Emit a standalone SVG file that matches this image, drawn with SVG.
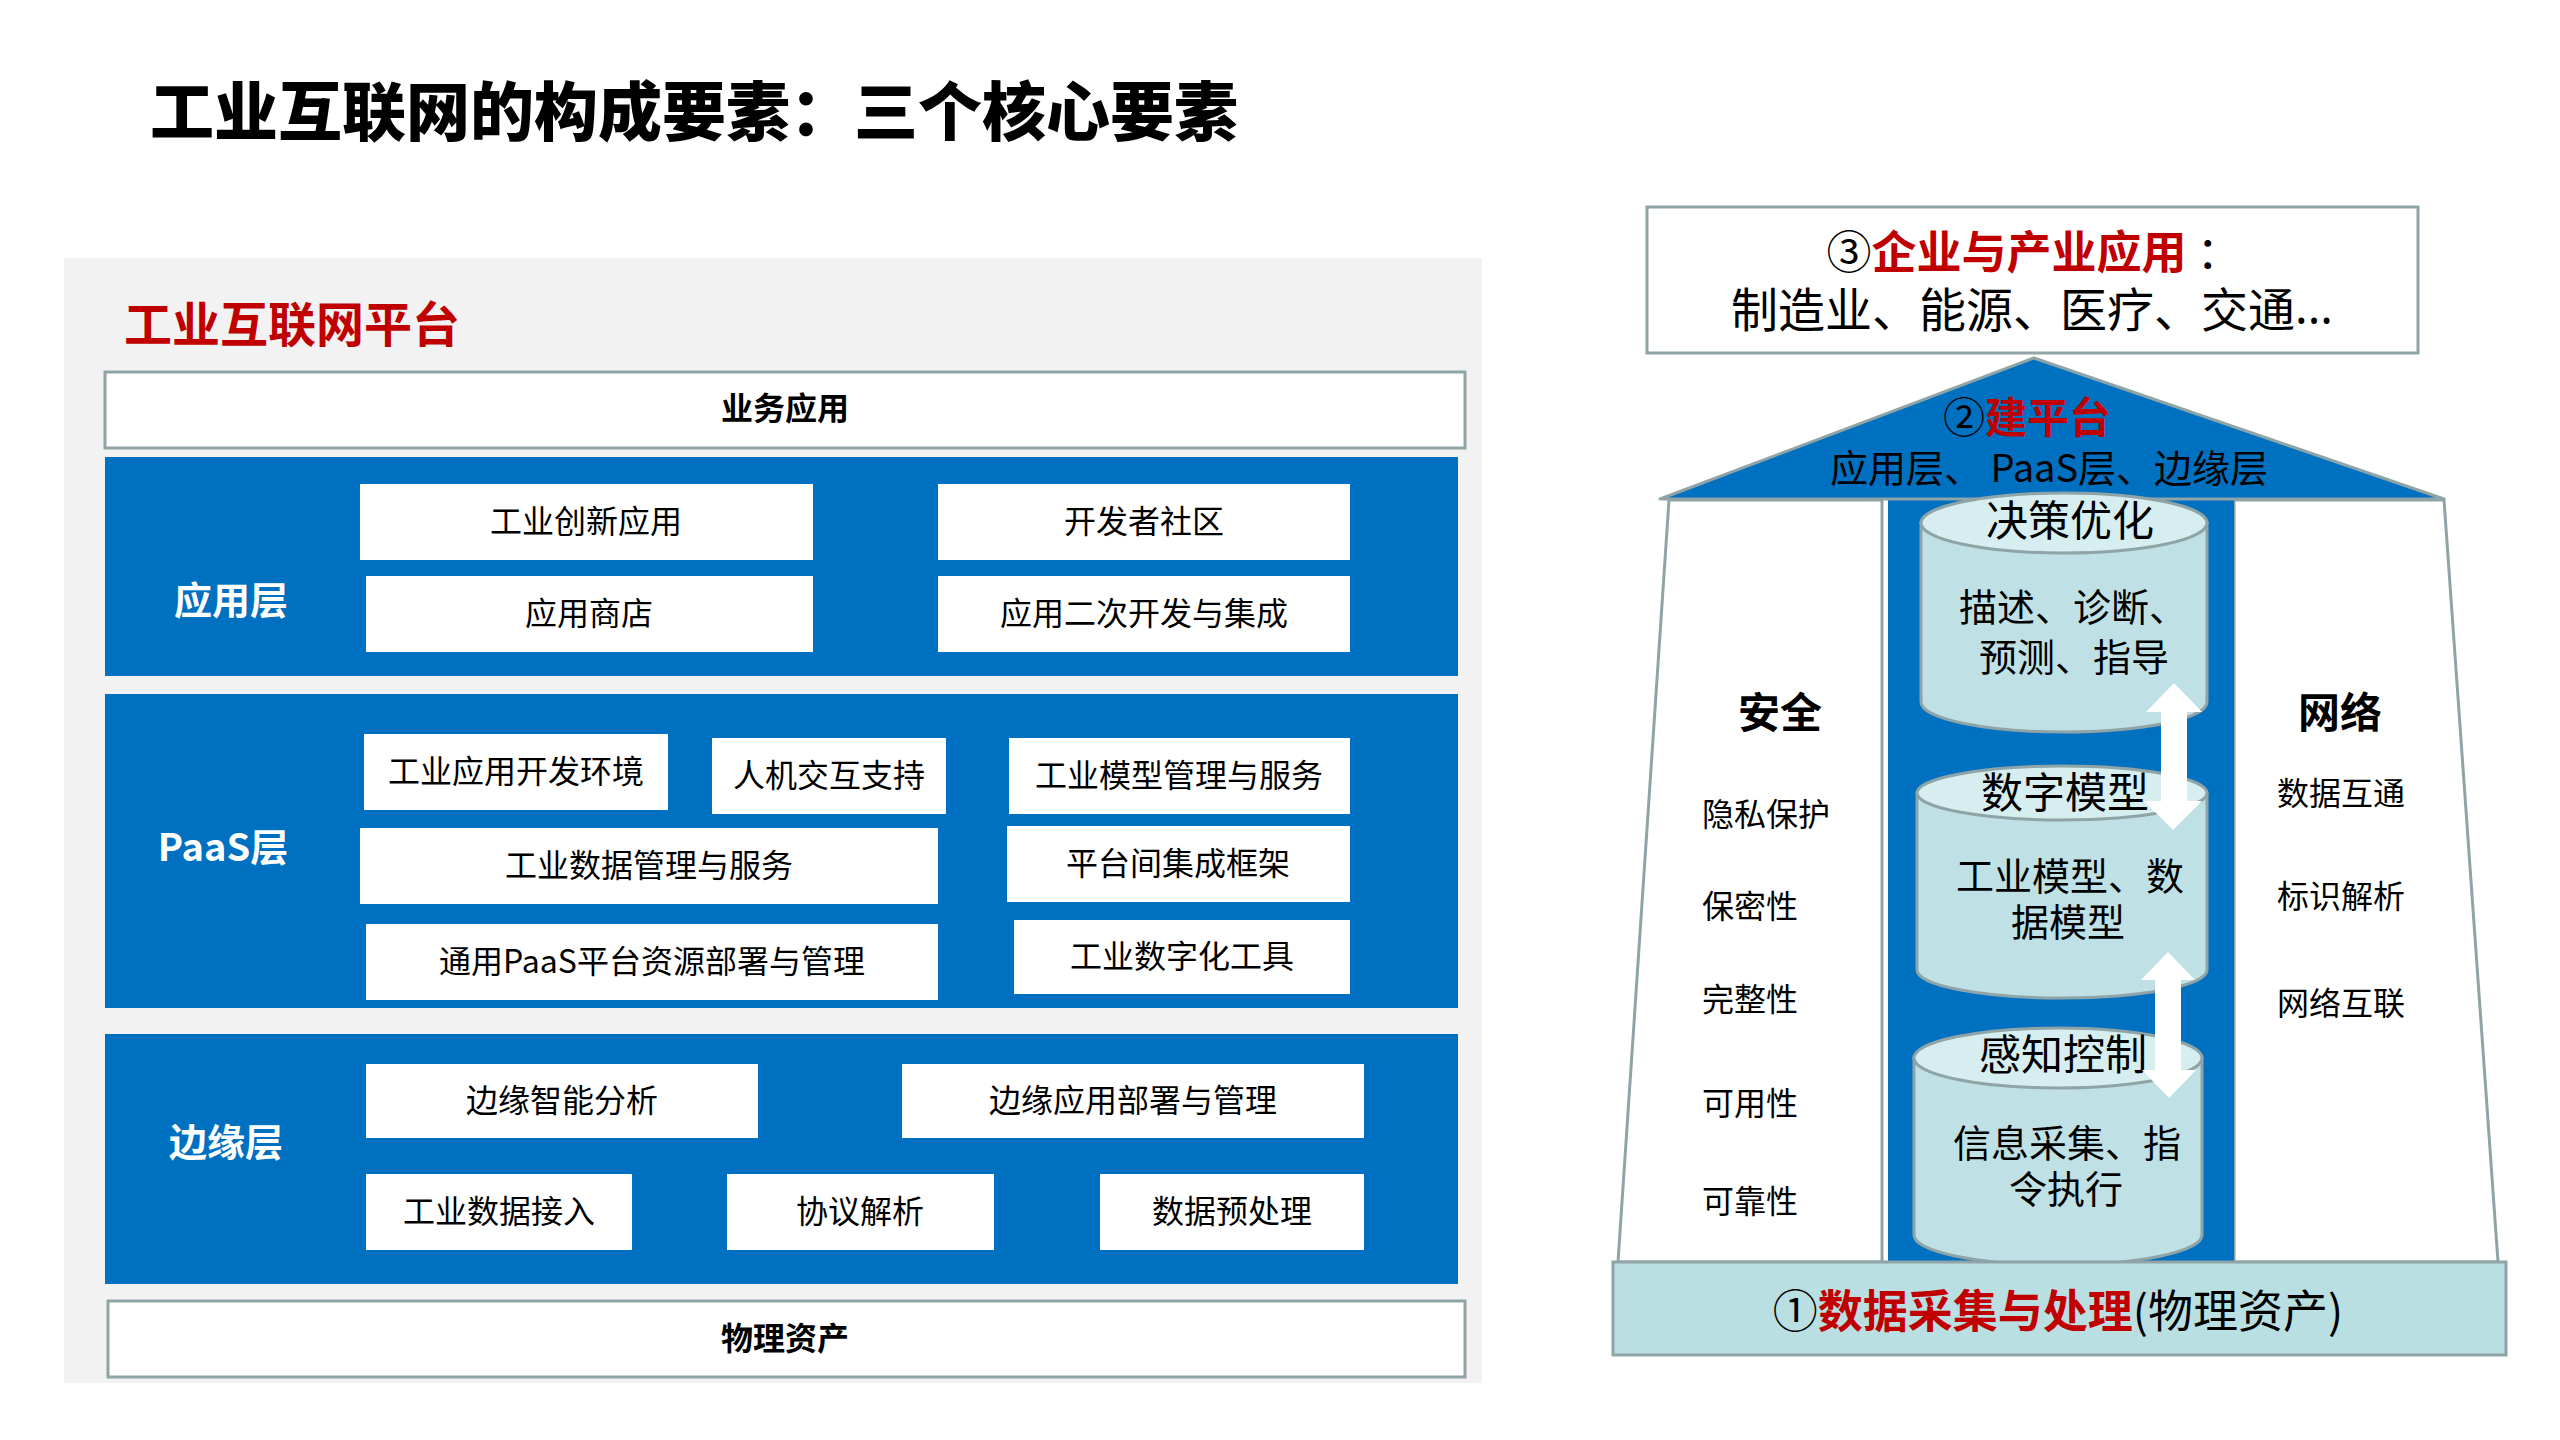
<svg xmlns="http://www.w3.org/2000/svg" width="2560" height="1440" viewBox="0 0 2560 1440">
<style>
text{font-family:"Noto Sans CJK SC","Noto Sans",sans-serif;dominant-baseline:central}
.t{fill:#000;font-size:32px;text-anchor:middle}
.lay{fill:#fff;font-size:38px;font-weight:bold;text-anchor:middle}
.box{fill:#fff}
.panel{fill:#0070C0}
.frame{fill:#fff;stroke:#8FA4A6;stroke-width:3}
.red{fill:#C00000;font-weight:bold}
.cylb{fill:#BFE1E6;stroke:#8FA4A6;stroke-width:3}
.cylt{fill:#D7EEF1;stroke:#8FA4A6;stroke-width:3}
.ct{fill:#000;font-size:42px;text-anchor:middle}
.cb{fill:#000;font-size:38px;text-anchor:middle}
.side{fill:#000;font-size:32px}
.head{fill:#000;font-size:42px;font-weight:bold;text-anchor:middle}
.arrow{fill:#fff}
</style>
<rect width="2560" height="1440" fill="#fff"/>
<text x="150" y="107" style="font-size:64px;font-weight:900" fill="#000">工业互联网的构成要素：三个核心要素</text>

<g id="platform">
<rect x="64" y="258" width="1418" height="1125" fill="#F2F2F2"/>
<text x="124" y="321" class="red" style="font-size:48px">工业互联网平台</text>
</g>

<g id="biz-app">
<rect x="105" y="372" width="1360" height="76" class="frame"/>
<text x="785" y="406" class="t" style="font-weight:bold">业务应用</text>
</g>

<g id="app-layer">
<rect x="105" y="457" width="1353" height="219" class="panel"/>
<text x="231" y="597" class="lay">应用层</text>
<rect x="360" y="484" width="453" height="76" class="box"/><text x="586" y="519" class="t">工业创新应用</text>
<rect x="938" y="484" width="412" height="76" class="box"/><text x="1144" y="519" class="t">开发者社区</text>
<rect x="366" y="576" width="447" height="76" class="box"/><text x="589" y="611" class="t">应用商店</text>
<rect x="938" y="576" width="412" height="76" class="box"/><text x="1144" y="611" class="t">应用二次开发与集成</text>
</g>

<g id="paas-layer">
<rect x="105" y="694" width="1353" height="314" class="panel"/>
<text x="223" y="844" class="lay">PaaS层</text>
<rect x="364" y="734" width="304" height="76" class="box"/><text x="516" y="769" class="t">工业应用开发环境</text>
<rect x="712" y="738" width="234" height="76" class="box"/><text x="829" y="773" class="t">人机交互支持</text>
<rect x="1009" y="738" width="341" height="76" class="box"/><text x="1179" y="773" class="t">工业模型管理与服务</text>
<rect x="360" y="828" width="578" height="76" class="box"/><text x="649" y="863" class="t">工业数据管理与服务</text>
<rect x="1007" y="826" width="343" height="76" class="box"/><text x="1178" y="861" class="t">平台间集成框架</text>
<rect x="366" y="924" width="572" height="76" class="box"/><text x="652" y="959" class="t">通用PaaS平台资源部署与管理</text>
<rect x="1014" y="920" width="336" height="74" class="box"/><text x="1182" y="954" class="t">工业数字化工具</text>
</g>

<g id="edge-layer">
<rect x="105" y="1034" width="1353" height="250" class="panel"/>
<text x="226" y="1139" class="lay">边缘层</text>
<rect x="366" y="1064" width="392" height="74" class="box"/><text x="562" y="1098" class="t">边缘智能分析</text>
<rect x="902" y="1064" width="462" height="74" class="box"/><text x="1133" y="1098" class="t">边缘应用部署与管理</text>
<rect x="366" y="1174" width="266" height="76" class="box"/><text x="499" y="1209" class="t">工业数据接入</text>
<rect x="727" y="1174" width="267" height="76" class="box"/><text x="860" y="1209" class="t">协议解析</text>
<rect x="1100" y="1174" width="264" height="76" class="box"/><text x="1232" y="1209" class="t">数据预处理</text>
</g>

<g id="physical-assets">
<rect x="108" y="1301" width="1357" height="76" class="frame"/>
<text x="785" y="1336" class="t" style="font-weight:bold">物理资产</text>
</g>

<g id="enterprise-app">
<rect x="1647" y="207" width="771" height="146" class="frame"/>
<text class="t" style="font-size:45px"><tspan x="2034" y="249">③</tspan><tspan class="red">企业与产业应用</tspan><tspan> ：</tspan><tspan x="2032" y="306" style="font-size:47px">制造业、能源、医疗、交通</tspan><tspan style="font-size:47px;font-family:'Noto Sans',sans-serif">...</tspan></text>
</g>

<g id="security-pillar">
<polygon points="1669,500 1882,500 1882,1262 1618,1262" class="frame"/>
<text x="1780" y="709" class="head">安全</text>
<text x="1702" y="812" class="side">隐私保护</text>
<text x="1702" y="904" class="side">保密性</text>
<text x="1702" y="997" class="side">完整性</text>
<text x="1702" y="1101" class="side">可用性</text>
<text x="1702" y="1199" class="side">可靠性</text>
</g>

<g id="network-pillar">
<polygon points="2234,500 2444,500 2498,1262 2234,1262" class="frame"/>
<text x="2340" y="709" class="head">网络</text>
<text x="2277" y="791" class="side">数据互通</text>
<text x="2277" y="894" class="side">标识解析</text>
<text x="2277" y="1001" class="side">网络互联</text>
</g>

<g id="platform-column">
<rect x="1888" y="500" width="346" height="762" fill="#0070C0"/>
</g>

<g id="roof">
<polygon points="2034,358 1660,499 2444,499" fill="#0070C0" stroke="#8FA4A6" stroke-width="3" stroke-linejoin="round"/>
<text class="t" style="font-size:42px"><tspan x="2027" y="414">②</tspan><tspan class="red">建平台</tspan><tspan x="2049" y="465" style="font-size:38px">应用层、 PaaS层、边缘层</tspan></text>
</g>

<g id="cyl-decision">
<path d="M1921,523 L1921,702 A143,30 0 0 0 2207,702 L2207,523 Z" class="cylb"/>
<ellipse cx="2064" cy="523" rx="143" ry="30" class="cylt"/>
<text x="2070" y="517" class="ct">决策优化</text>
<text class="cb"><tspan x="2073" y="604">描述、诊断、</tspan><tspan x="2074" y="654">预测、指导</tspan></text>
</g>

<g id="cyl-digital">
<path d="M1917,793 L1917,970 A145,28 0 0 0 2207,970 L2207,793 Z" class="cylb"/>
<ellipse cx="2062" cy="793" rx="145" ry="27" class="cylt"/>
<text x="2065" y="789" class="ct">数字模型</text>
<text class="cb"><tspan x="2070" y="873">工业模型、数</tspan><tspan x="2068" y="919">据模型</tspan></text>
</g>

<g id="cyl-sense">
<path d="M1914,1058 L1914,1235 A144,30 0 0 0 2202,1235 L2202,1058 Z" class="cylb"/>
<ellipse cx="2058" cy="1058" rx="144" ry="30" class="cylt"/>
<text x="2063" y="1051" class="ct">感知控制</text>
<text class="cb"><tspan x="2067" y="1140">信息采集、指</tspan><tspan x="2066" y="1186">令执行</tspan></text>
</g>

<g id="data-collection">
<rect x="1613" y="1262" width="893" height="93" fill="#B9DFE3" stroke="#8FA4A6" stroke-width="3"/>
<text x="2058" y="1308" class="t" style="font-size:45px"><tspan>①</tspan><tspan class="red">数据采集与处理</tspan><tspan>(物理资产)</tspan></text>
</g>

<g id="connectors">
<polygon class="arrow" points="2174,683 2202,712 2187,712 2187,801 2202,801 2173,830 2144,801 2161,801 2161,712 2146,712"/>
<polygon class="arrow" points="2168,952 2195,980 2181,980 2181,1070 2196,1070 2169,1098 2142,1070 2155,1070 2155,980 2141,980"/>
</g>
</svg>
